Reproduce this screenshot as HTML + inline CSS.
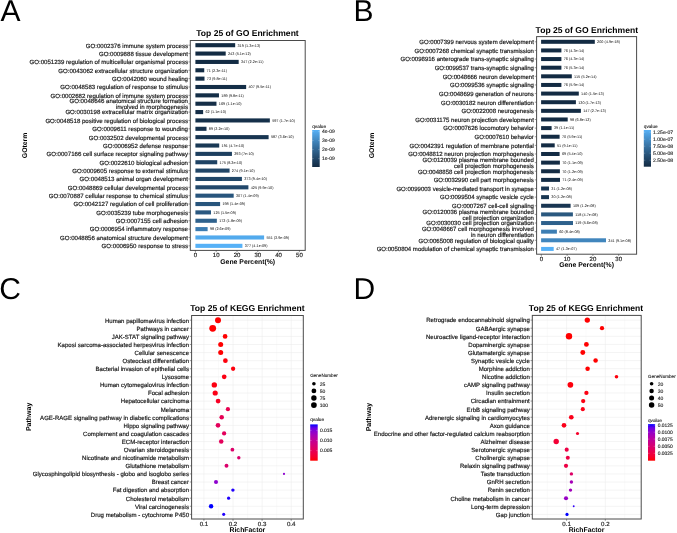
<!DOCTYPE html>
<html><head><meta charset="utf-8"><style>
html,body{margin:0;padding:0;background:#fff;}
svg{display:block;font-family:"Liberation Sans", sans-serif;}
body>div{filter:contrast(1);}
text{text-rendering:geometricPrecision;}
.s{stroke:#1a1a1a;stroke-width:0.18px;}
.t{stroke:#222;stroke-width:0.12px;}
</style></head><body>
<div><svg width="677" height="533" viewBox="0 0 677 533">
<text x="0.60" y="20.70" font-size="30" text-anchor="start" fill="#000">A</text>
<text x="353.40" y="20.70" font-size="30" text-anchor="start" fill="#000">B</text>
<text x="-0.80" y="298.90" font-size="30" text-anchor="start" fill="#000">C</text>
<text x="353.60" y="298.90" font-size="30" text-anchor="start" fill="#000">D</text>
<text x="247.50" y="36.30" font-size="8.55" text-anchor="middle" font-weight="bold" fill="#000">Top 25 of GO Enrichment</text>
<rect x="195.40" y="43.15" width="39.78" height="4.10" fill="#132b43"/>
<text x="237.48" y="46.50" font-size="3.8" text-anchor="start" fill="#111">319 (1.3e-13)</text>
<text x="188.00" y="47.55" font-size="6.1" text-anchor="end" fill="#1a1a1a" class="s">GO:0002376 immune system process</text>
<line x1="188.50" y1="45.20" x2="190.30" y2="45.20" stroke="#333" stroke-width="0.5"/>
<rect x="195.40" y="51.51" width="30.30" height="4.10" fill="#132b43"/>
<text x="228.00" y="54.86" font-size="3.8" text-anchor="start" fill="#111">243 (5.1e-12)</text>
<text x="188.00" y="55.91" font-size="6.1" text-anchor="end" fill="#1a1a1a" class="s">GO:0009888 tissue development</text>
<line x1="188.50" y1="53.56" x2="190.30" y2="53.56" stroke="#333" stroke-width="0.5"/>
<rect x="195.40" y="59.87" width="43.27" height="4.10" fill="#132c44"/>
<text x="240.97" y="63.22" font-size="3.8" text-anchor="start" fill="#111">347 (2.2e-11)</text>
<text x="188.00" y="64.27" font-size="6.1" text-anchor="end" fill="#1a1a1a" class="s">GO:0051239 regulation of multicellular organismal process</text>
<line x1="188.50" y1="61.92" x2="190.30" y2="61.92" stroke="#333" stroke-width="0.5"/>
<rect x="195.40" y="68.23" width="8.85" height="4.10" fill="#132c44"/>
<text x="206.55" y="71.58" font-size="3.8" text-anchor="start" fill="#111">71 (2.3e-11)</text>
<text x="188.00" y="72.63" font-size="6.1" text-anchor="end" fill="#1a1a1a" class="s">GO:0043062 extracellular structure organization</text>
<line x1="188.50" y1="70.28" x2="190.30" y2="70.28" stroke="#333" stroke-width="0.5"/>
<rect x="195.40" y="76.59" width="9.10" height="4.10" fill="#142e47"/>
<text x="206.80" y="79.94" font-size="3.8" text-anchor="start" fill="#111">73 (9.8e-11)</text>
<text x="188.00" y="80.99" font-size="6.1" text-anchor="end" fill="#1a1a1a" class="s">GO:0042060 wound healing</text>
<line x1="188.50" y1="78.64" x2="190.30" y2="78.64" stroke="#333" stroke-width="0.5"/>
<rect x="195.40" y="84.95" width="50.75" height="4.10" fill="#142e47"/>
<text x="248.45" y="88.30" font-size="3.8" text-anchor="start" fill="#111">407 (9.5e-11)</text>
<text x="188.00" y="89.35" font-size="6.1" text-anchor="end" fill="#1a1a1a" class="s">GO:0048583 regulation of response to stimulus</text>
<line x1="188.50" y1="87.00" x2="190.30" y2="87.00" stroke="#333" stroke-width="0.5"/>
<rect x="195.40" y="93.31" width="23.57" height="4.10" fill="#142e47"/>
<text x="221.27" y="96.66" font-size="3.8" text-anchor="start" fill="#111">189 (9.8e-11)</text>
<text x="188.00" y="97.71" font-size="6.1" text-anchor="end" fill="#1a1a1a" class="s">GO:0002682 regulation of immune system process</text>
<line x1="188.50" y1="95.36" x2="190.30" y2="95.36" stroke="#333" stroke-width="0.5"/>
<rect x="195.40" y="101.67" width="21.07" height="4.10" fill="#152e47"/>
<text x="218.77" y="105.02" font-size="3.8" text-anchor="start" fill="#111">169 (1.1e-10)</text>
<text x="188.00" y="102.97" font-size="6.1" text-anchor="end" fill="#1a1a1a" class="s">GO:0048646 anatomical structure formation</text>
<text x="188.00" y="108.97" font-size="6.1" text-anchor="end" fill="#1a1a1a" class="s">involved in morphogenesis</text>
<line x1="188.50" y1="103.72" x2="190.30" y2="103.72" stroke="#333" stroke-width="0.5"/>
<rect x="195.40" y="110.03" width="7.73" height="4.10" fill="#152e47"/>
<text x="205.43" y="113.38" font-size="3.8" text-anchor="start" fill="#111">62 (1.1e-10)</text>
<text x="188.00" y="114.43" font-size="6.1" text-anchor="end" fill="#1a1a1a" class="s">GO:0030198 extracellular matrix organization</text>
<line x1="188.50" y1="112.08" x2="190.30" y2="112.08" stroke="#333" stroke-width="0.5"/>
<rect x="195.40" y="118.39" width="74.45" height="4.10" fill="#15304a"/>
<text x="272.15" y="121.74" font-size="3.8" text-anchor="start" fill="#111">597 (1.7e-10)</text>
<text x="188.00" y="122.79" font-size="6.1" text-anchor="end" fill="#1a1a1a" class="s">GO:0048518 positive regulation of biological process</text>
<line x1="188.50" y1="120.44" x2="190.30" y2="120.44" stroke="#333" stroke-width="0.5"/>
<rect x="195.40" y="126.75" width="11.10" height="4.10" fill="#16314c"/>
<text x="208.80" y="130.10" font-size="3.8" text-anchor="start" fill="#111">89 (2.2e-10)</text>
<text x="188.00" y="131.15" font-size="6.1" text-anchor="end" fill="#1a1a1a" class="s">GO:0009611 response to wounding</text>
<line x1="188.50" y1="128.80" x2="190.30" y2="128.80" stroke="#333" stroke-width="0.5"/>
<rect x="195.40" y="135.11" width="73.20" height="4.10" fill="#183551"/>
<text x="270.90" y="138.46" font-size="3.8" text-anchor="start" fill="#111">587 (3.6e-10)</text>
<text x="188.00" y="139.51" font-size="6.1" text-anchor="end" fill="#1a1a1a" class="s">GO:0032502 developmental process</text>
<line x1="188.50" y1="137.16" x2="190.30" y2="137.16" stroke="#333" stroke-width="0.5"/>
<rect x="195.40" y="143.47" width="23.82" height="4.10" fill="#1a3955"/>
<text x="221.52" y="146.82" font-size="3.8" text-anchor="start" fill="#111">191 (4.7e-10)</text>
<text x="188.00" y="147.87" font-size="6.1" text-anchor="end" fill="#1a1a1a" class="s">GO:0006952 defense response</text>
<line x1="188.50" y1="145.52" x2="190.30" y2="145.52" stroke="#333" stroke-width="0.5"/>
<rect x="195.40" y="151.83" width="36.54" height="4.10" fill="#1d3f5f"/>
<text x="234.24" y="155.18" font-size="3.8" text-anchor="start" fill="#111">293 (7e-10)</text>
<text x="188.00" y="156.23" font-size="6.1" text-anchor="end" fill="#1a1a1a" class="s">GO:0007166 cell surface receptor signaling pathway</text>
<line x1="188.50" y1="153.88" x2="190.30" y2="153.88" stroke="#333" stroke-width="0.5"/>
<rect x="195.40" y="160.19" width="21.82" height="4.10" fill="#1f4364"/>
<text x="219.52" y="163.54" font-size="3.8" text-anchor="start" fill="#111">175 (8.2e-10)</text>
<text x="188.00" y="164.59" font-size="6.1" text-anchor="end" fill="#1a1a1a" class="s">GO:0022610 biological adhesion</text>
<line x1="188.50" y1="162.24" x2="190.30" y2="162.24" stroke="#333" stroke-width="0.5"/>
<rect x="195.40" y="168.55" width="34.17" height="4.10" fill="#214667"/>
<text x="231.87" y="171.90" font-size="3.8" text-anchor="start" fill="#111">274 (9.1e-10)</text>
<text x="188.00" y="172.95" font-size="6.1" text-anchor="end" fill="#1a1a1a" class="s">GO:0009605 response to external stimulus</text>
<line x1="188.50" y1="170.60" x2="190.30" y2="170.60" stroke="#333" stroke-width="0.5"/>
<rect x="195.40" y="176.91" width="46.51" height="4.10" fill="#214768"/>
<text x="244.21" y="180.26" font-size="3.8" text-anchor="start" fill="#111">373 (9.4e-10)</text>
<text x="188.00" y="181.31" font-size="6.1" text-anchor="end" fill="#1a1a1a" class="s">GO:0048513 animal organ development</text>
<line x1="188.50" y1="178.96" x2="190.30" y2="178.96" stroke="#333" stroke-width="0.5"/>
<rect x="195.40" y="185.27" width="53.00" height="4.10" fill="#22486b"/>
<text x="250.70" y="188.62" font-size="3.8" text-anchor="start" fill="#111">425 (9.9e-10)</text>
<text x="188.00" y="189.67" font-size="6.1" text-anchor="end" fill="#1a1a1a" class="s">GO:0048869 cellular developmental process</text>
<line x1="188.50" y1="187.32" x2="190.30" y2="187.32" stroke="#333" stroke-width="0.5"/>
<rect x="195.40" y="193.63" width="38.28" height="4.10" fill="#28557c"/>
<text x="235.98" y="196.98" font-size="3.8" text-anchor="start" fill="#111">307 (1.4e-09)</text>
<text x="188.00" y="198.03" font-size="6.1" text-anchor="end" fill="#1a1a1a" class="s">GO:0070887 cellular response to chemical stimulus</text>
<line x1="188.50" y1="195.68" x2="190.30" y2="195.68" stroke="#333" stroke-width="0.5"/>
<rect x="195.40" y="201.99" width="24.69" height="4.10" fill="#28557c"/>
<text x="222.39" y="205.34" font-size="3.8" text-anchor="start" fill="#111">198 (1.4e-09)</text>
<text x="188.00" y="206.39" font-size="6.1" text-anchor="end" fill="#1a1a1a" class="s">GO:0042127 regulation of cell proliferation</text>
<line x1="188.50" y1="204.04" x2="190.30" y2="204.04" stroke="#333" stroke-width="0.5"/>
<rect x="195.40" y="210.35" width="15.59" height="4.10" fill="#2a5880"/>
<text x="213.29" y="213.70" font-size="3.8" text-anchor="start" fill="#111">125 (1.5e-09)</text>
<text x="188.00" y="214.75" font-size="6.1" text-anchor="end" fill="#1a1a1a" class="s">GO:0035239 tube morphogenesis</text>
<line x1="188.50" y1="212.40" x2="190.30" y2="212.40" stroke="#333" stroke-width="0.5"/>
<rect x="195.40" y="218.71" width="21.45" height="4.10" fill="#2f628d"/>
<text x="219.15" y="222.06" font-size="3.8" text-anchor="start" fill="#111">172 (1.8e-09)</text>
<text x="188.00" y="223.11" font-size="6.1" text-anchor="end" fill="#1a1a1a" class="s">GO:0007155 cell adhesion</text>
<line x1="188.50" y1="220.76" x2="190.30" y2="220.76" stroke="#333" stroke-width="0.5"/>
<rect x="195.40" y="227.07" width="12.22" height="4.10" fill="#3c7cb1"/>
<text x="209.92" y="230.42" font-size="3.8" text-anchor="start" fill="#111">98 (2.6e-09)</text>
<text x="188.00" y="231.47" font-size="6.1" text-anchor="end" fill="#1a1a1a" class="s">GO:0006954 inflammatory response</text>
<line x1="188.50" y1="229.12" x2="190.30" y2="229.12" stroke="#333" stroke-width="0.5"/>
<rect x="195.40" y="235.43" width="68.71" height="4.10" fill="#52aaed"/>
<text x="266.41" y="238.78" font-size="3.8" text-anchor="start" fill="#111">551 (3.9e-09)</text>
<text x="188.00" y="239.83" font-size="6.1" text-anchor="end" fill="#1a1a1a" class="s">GO:0048856 anatomical structure development</text>
<line x1="188.50" y1="237.48" x2="190.30" y2="237.48" stroke="#333" stroke-width="0.5"/>
<rect x="195.40" y="243.79" width="47.01" height="4.10" fill="#56b1f7"/>
<text x="244.71" y="247.14" font-size="3.8" text-anchor="start" fill="#111">377 (4.1e-09)</text>
<text x="188.00" y="248.19" font-size="6.1" text-anchor="end" fill="#1a1a1a" class="s">GO:0006950 response to stress</text>
<line x1="188.50" y1="245.84" x2="190.30" y2="245.84" stroke="#333" stroke-width="0.5"/>
<rect x="190.30" y="40.50" width="114.90" height="209.90" fill="none" stroke="#4a4a4a" stroke-width="1.0"/>
<line x1="195.40" y1="250.40" x2="195.40" y2="252.20" stroke="#333" stroke-width="0.5"/>
<text x="195.40" y="257.10" font-size="6.0" text-anchor="middle" fill="#333333" class="s">0</text>
<line x1="216.20" y1="250.40" x2="216.20" y2="252.20" stroke="#333" stroke-width="0.5"/>
<text x="216.20" y="257.10" font-size="6.0" text-anchor="middle" fill="#333333" class="s">10</text>
<line x1="237.00" y1="250.40" x2="237.00" y2="252.20" stroke="#333" stroke-width="0.5"/>
<text x="237.00" y="257.10" font-size="6.0" text-anchor="middle" fill="#333333" class="s">20</text>
<line x1="257.80" y1="250.40" x2="257.80" y2="252.20" stroke="#333" stroke-width="0.5"/>
<text x="257.80" y="257.10" font-size="6.0" text-anchor="middle" fill="#333333" class="s">30</text>
<line x1="278.60" y1="250.40" x2="278.60" y2="252.20" stroke="#333" stroke-width="0.5"/>
<text x="278.60" y="257.10" font-size="6.0" text-anchor="middle" fill="#333333" class="s">40</text>
<line x1="299.40" y1="250.40" x2="299.40" y2="252.20" stroke="#333" stroke-width="0.5"/>
<text x="299.40" y="257.10" font-size="6.0" text-anchor="middle" fill="#333333" class="s">50</text>
<text x="247.70" y="264.00" font-size="6.85" text-anchor="middle" font-weight="bold" fill="#000">Gene Percent(%)</text>
<text transform="translate(27.40,145.40) rotate(-90)" font-size="6.85" font-weight="bold" text-anchor="middle" fill="#000">GOterm</text>
<defs><linearGradient id="g121" x1="0" y1="1" x2="0" y2="0">
<stop offset="0.00" stop-color="#132b43"/>
<stop offset="0.10" stop-color="#193753"/>
<stop offset="0.20" stop-color="#1f4364"/>
<stop offset="0.30" stop-color="#265075"/>
<stop offset="0.40" stop-color="#2c5d86"/>
<stop offset="0.50" stop-color="#336a98"/>
<stop offset="0.60" stop-color="#3a78aa"/>
<stop offset="0.70" stop-color="#4186bd"/>
<stop offset="0.80" stop-color="#4894d0"/>
<stop offset="0.90" stop-color="#4fa2e3"/>
<stop offset="1.00" stop-color="#56b1f7"/>
</linearGradient></defs>
<rect x="312.20" y="130.00" width="7.50" height="37.00" fill="url(#g121)"/>
<text x="312.20" y="127.80" font-size="4.7" text-anchor="start" fill="#222222" class="t">qvalue</text>
<line x1="312.20" y1="131.60" x2="313.70" y2="131.60" stroke="#fff" stroke-width="0.4" stroke-opacity="0.6"/>
<line x1="318.20" y1="131.60" x2="319.70" y2="131.60" stroke="#fff" stroke-width="0.4" stroke-opacity="0.6"/>
<text x="322.00" y="133.40" font-size="5.0" text-anchor="start" fill="#222222" class="t">4e-09</text>
<line x1="312.20" y1="140.60" x2="313.70" y2="140.60" stroke="#fff" stroke-width="0.4" stroke-opacity="0.6"/>
<line x1="318.20" y1="140.60" x2="319.70" y2="140.60" stroke="#fff" stroke-width="0.4" stroke-opacity="0.6"/>
<text x="322.00" y="142.40" font-size="5.0" text-anchor="start" fill="#222222" class="t">3e-09</text>
<line x1="312.20" y1="149.60" x2="313.70" y2="149.60" stroke="#fff" stroke-width="0.4" stroke-opacity="0.6"/>
<line x1="318.20" y1="149.60" x2="319.70" y2="149.60" stroke="#fff" stroke-width="0.4" stroke-opacity="0.6"/>
<text x="322.00" y="151.40" font-size="5.0" text-anchor="start" fill="#222222" class="t">2e-09</text>
<line x1="312.20" y1="158.60" x2="313.70" y2="158.60" stroke="#fff" stroke-width="0.4" stroke-opacity="0.6"/>
<line x1="318.20" y1="158.60" x2="319.70" y2="158.60" stroke="#fff" stroke-width="0.4" stroke-opacity="0.6"/>
<text x="322.00" y="160.40" font-size="5.0" text-anchor="start" fill="#222222" class="t">1e-09</text>
<text x="586.80" y="32.70" font-size="8.55" text-anchor="middle" font-weight="bold" fill="#000">Top 25 of GO Enrichment</text>
<rect x="541.10" y="39.80" width="53.70" height="4.00" fill="#132b43"/>
<text x="597.10" y="43.10" font-size="3.8" text-anchor="start" fill="#111">200 (4.9e-18)</text>
<text x="533.90" y="44.15" font-size="6.04" text-anchor="end" fill="#1a1a1a" class="s">GO:0007399 nervous system development</text>
<line x1="534.80" y1="41.80" x2="536.60" y2="41.80" stroke="#333" stroke-width="0.5"/>
<rect x="541.10" y="48.43" width="20.30" height="4.00" fill="#132b43"/>
<text x="563.70" y="51.73" font-size="3.8" text-anchor="start" fill="#111">76 (4.3e-14)</text>
<text x="533.90" y="52.78" font-size="6.04" text-anchor="end" fill="#1a1a1a" class="s">GO:0007268 chemical synaptic transmission</text>
<line x1="534.80" y1="50.43" x2="536.60" y2="50.43" stroke="#333" stroke-width="0.5"/>
<rect x="541.10" y="57.06" width="20.30" height="4.00" fill="#132b43"/>
<text x="563.70" y="60.36" font-size="3.8" text-anchor="start" fill="#111">76 (4.3e-14)</text>
<text x="533.90" y="61.41" font-size="6.04" text-anchor="end" fill="#1a1a1a" class="s">GO:0098916 anterograde trans-synaptic signaling</text>
<line x1="534.80" y1="59.06" x2="536.60" y2="59.06" stroke="#333" stroke-width="0.5"/>
<rect x="541.10" y="65.69" width="20.30" height="4.00" fill="#132b43"/>
<text x="563.70" y="68.99" font-size="3.8" text-anchor="start" fill="#111">76 (5.3e-14)</text>
<text x="533.90" y="70.04" font-size="6.04" text-anchor="end" fill="#1a1a1a" class="s">GO:0099537 trans-synaptic signaling</text>
<line x1="534.80" y1="67.69" x2="536.60" y2="67.69" stroke="#333" stroke-width="0.5"/>
<rect x="541.10" y="74.32" width="30.70" height="4.00" fill="#132b43"/>
<text x="574.10" y="77.62" font-size="3.8" text-anchor="start" fill="#111">115 (5.2e-14)</text>
<text x="533.90" y="78.67" font-size="6.04" text-anchor="end" fill="#1a1a1a" class="s">GO:0048666 neuron development</text>
<line x1="534.80" y1="76.32" x2="536.60" y2="76.32" stroke="#333" stroke-width="0.5"/>
<rect x="541.10" y="82.95" width="20.30" height="4.00" fill="#132b43"/>
<text x="563.70" y="86.25" font-size="3.8" text-anchor="start" fill="#111">76 (5.9e-14)</text>
<text x="533.90" y="87.30" font-size="6.04" text-anchor="end" fill="#1a1a1a" class="s">GO:0099536 synaptic signaling</text>
<line x1="534.80" y1="84.95" x2="536.60" y2="84.95" stroke="#333" stroke-width="0.5"/>
<rect x="541.10" y="91.58" width="37.70" height="4.00" fill="#132b43"/>
<text x="581.10" y="94.88" font-size="3.8" text-anchor="start" fill="#111">140 (1.5e-13)</text>
<text x="533.90" y="95.93" font-size="6.04" text-anchor="end" fill="#1a1a1a" class="s">GO:0048699 generation of neurons</text>
<line x1="534.80" y1="93.58" x2="536.60" y2="93.58" stroke="#333" stroke-width="0.5"/>
<rect x="541.10" y="100.21" width="34.80" height="4.00" fill="#132b43"/>
<text x="578.20" y="103.51" font-size="3.8" text-anchor="start" fill="#111">130 (1.7e-13)</text>
<text x="533.90" y="104.56" font-size="6.04" text-anchor="end" fill="#1a1a1a" class="s">GO:0030182 neuron differentiation</text>
<line x1="534.80" y1="102.21" x2="536.60" y2="102.21" stroke="#333" stroke-width="0.5"/>
<rect x="541.10" y="108.84" width="39.80" height="4.00" fill="#132b43"/>
<text x="583.20" y="112.14" font-size="3.8" text-anchor="start" fill="#111">147 (2.7e-13)</text>
<text x="533.90" y="113.19" font-size="6.04" text-anchor="end" fill="#1a1a1a" class="s">GO:0022008 neurogenesis</text>
<line x1="534.80" y1="110.84" x2="536.60" y2="110.84" stroke="#333" stroke-width="0.5"/>
<rect x="541.10" y="117.47" width="26.60" height="4.00" fill="#132b43"/>
<text x="570.00" y="120.77" font-size="3.8" text-anchor="start" fill="#111">98 (6.8e-12)</text>
<text x="533.90" y="121.82" font-size="6.04" text-anchor="end" fill="#1a1a1a" class="s">GO:0031175 neuron projection development</text>
<line x1="534.80" y1="119.47" x2="536.60" y2="119.47" stroke="#333" stroke-width="0.5"/>
<rect x="541.10" y="126.10" width="10.50" height="4.00" fill="#132b43"/>
<text x="553.90" y="129.40" font-size="3.8" text-anchor="start" fill="#111">39 (1.1e-11)</text>
<text x="533.90" y="130.45" font-size="6.04" text-anchor="end" fill="#1a1a1a" class="s">GO:0007626 locomotory behavior</text>
<line x1="534.80" y1="128.10" x2="536.60" y2="128.10" stroke="#333" stroke-width="0.5"/>
<rect x="541.10" y="134.73" width="18.50" height="4.00" fill="#132b43"/>
<text x="561.90" y="138.03" font-size="3.8" text-anchor="start" fill="#111">70 (5.9e-11)</text>
<text x="533.90" y="139.08" font-size="6.04" text-anchor="end" fill="#1a1a1a" class="s">GO:0007610 behavior</text>
<line x1="534.80" y1="136.73" x2="536.60" y2="136.73" stroke="#333" stroke-width="0.5"/>
<rect x="541.10" y="143.36" width="13.60" height="4.00" fill="#132b43"/>
<text x="557.00" y="146.66" font-size="3.8" text-anchor="start" fill="#111">51 (9.1e-11)</text>
<text x="533.90" y="147.71" font-size="6.04" text-anchor="end" fill="#1a1a1a" class="s">GO:0042391 regulation of membrane potential</text>
<line x1="534.80" y1="145.36" x2="536.60" y2="145.36" stroke="#333" stroke-width="0.5"/>
<rect x="541.10" y="151.99" width="18.50" height="4.00" fill="#132b44"/>
<text x="561.90" y="155.29" font-size="3.8" text-anchor="start" fill="#111">69 (5.4e-10)</text>
<text x="533.90" y="156.34" font-size="6.04" text-anchor="end" fill="#1a1a1a" class="s">GO:0048812 neuron projection morphogenesis</text>
<line x1="534.80" y1="153.99" x2="536.60" y2="153.99" stroke="#333" stroke-width="0.5"/>
<rect x="541.10" y="160.62" width="18.80" height="4.00" fill="#142c44"/>
<text x="562.20" y="163.92" font-size="3.8" text-anchor="start" fill="#111">70 (1.1e-09)</text>
<text x="533.90" y="161.87" font-size="6.04" text-anchor="end" fill="#1a1a1a" class="s">GO:0120039 plasma membrane bounded</text>
<text x="533.90" y="167.87" font-size="6.04" text-anchor="end" fill="#1a1a1a" class="s">cell projection morphogenesis</text>
<line x1="534.80" y1="162.62" x2="536.60" y2="162.62" stroke="#333" stroke-width="0.5"/>
<rect x="541.10" y="169.25" width="18.80" height="4.00" fill="#142c44"/>
<text x="562.20" y="172.55" font-size="3.8" text-anchor="start" fill="#111">70 (1.2e-09)</text>
<text x="533.90" y="173.60" font-size="6.04" text-anchor="end" fill="#1a1a1a" class="s">GO:0048858 cell projection morphogenesis</text>
<line x1="534.80" y1="171.25" x2="536.60" y2="171.25" stroke="#333" stroke-width="0.5"/>
<rect x="541.10" y="177.88" width="18.90" height="4.00" fill="#142d46"/>
<text x="562.30" y="181.18" font-size="3.8" text-anchor="start" fill="#111">71 (2.4e-09)</text>
<text x="533.90" y="182.23" font-size="6.04" text-anchor="end" fill="#1a1a1a" class="s">GO:0032990 cell part morphogenesis</text>
<line x1="534.80" y1="179.88" x2="536.60" y2="179.88" stroke="#333" stroke-width="0.5"/>
<rect x="541.10" y="186.51" width="7.90" height="4.00" fill="#193652"/>
<text x="551.30" y="189.81" font-size="3.8" text-anchor="start" fill="#111">31 (1.2e-08)</text>
<text x="533.90" y="190.86" font-size="6.04" text-anchor="end" fill="#1a1a1a" class="s">GO:0099003 vesicle-mediated transport in synapse</text>
<line x1="534.80" y1="188.51" x2="536.60" y2="188.51" stroke="#333" stroke-width="0.5"/>
<rect x="541.10" y="195.14" width="7.90" height="4.00" fill="#193652"/>
<text x="551.30" y="198.44" font-size="3.8" text-anchor="start" fill="#111">30 (1.2e-08)</text>
<text x="533.90" y="199.49" font-size="6.04" text-anchor="end" fill="#1a1a1a" class="s">GO:0099504 synaptic vesicle cycle</text>
<line x1="534.80" y1="197.14" x2="536.60" y2="197.14" stroke="#333" stroke-width="0.5"/>
<rect x="541.10" y="203.77" width="29.50" height="4.00" fill="#193652"/>
<text x="572.90" y="207.07" font-size="3.8" text-anchor="start" fill="#111">109 (1.2e-08)</text>
<text x="533.90" y="208.12" font-size="6.04" text-anchor="end" fill="#1a1a1a" class="s">GO:0007267 cell-cell signaling</text>
<line x1="534.80" y1="205.77" x2="536.60" y2="205.77" stroke="#333" stroke-width="0.5"/>
<rect x="541.10" y="212.40" width="31.80" height="4.00" fill="#2a587f"/>
<text x="575.20" y="215.70" font-size="3.8" text-anchor="start" fill="#111">118 (4.7e-08)</text>
<text x="533.90" y="213.65" font-size="6.04" text-anchor="end" fill="#1a1a1a" class="s">GO:0120036 plasma membrane bounded</text>
<text x="533.90" y="219.65" font-size="6.04" text-anchor="end" fill="#1a1a1a" class="s">cell projection organization</text>
<line x1="534.80" y1="214.40" x2="536.60" y2="214.40" stroke="#333" stroke-width="0.5"/>
<rect x="541.10" y="221.03" width="31.90" height="4.00" fill="#2e618c"/>
<text x="575.30" y="224.33" font-size="3.8" text-anchor="start" fill="#111">119 (5.6e-08)</text>
<text x="533.90" y="225.38" font-size="6.04" text-anchor="end" fill="#1a1a1a" class="s">GO:0030030 cell projection organization</text>
<line x1="534.80" y1="223.03" x2="536.60" y2="223.03" stroke="#333" stroke-width="0.5"/>
<rect x="541.10" y="229.66" width="15.80" height="4.00" fill="#3d7eb3"/>
<text x="559.20" y="232.96" font-size="3.8" text-anchor="start" fill="#111">60 (8.4e-08)</text>
<text x="533.90" y="230.91" font-size="6.04" text-anchor="end" fill="#1a1a1a" class="s">GO:0048667 cell morphogenesis involved</text>
<text x="533.90" y="236.91" font-size="6.04" text-anchor="end" fill="#1a1a1a" class="s">in neuron differentiation</text>
<line x1="534.80" y1="231.66" x2="536.60" y2="231.66" stroke="#333" stroke-width="0.5"/>
<rect x="541.10" y="238.29" width="64.90" height="4.00" fill="#4186bd"/>
<text x="608.30" y="241.59" font-size="3.8" text-anchor="start" fill="#111">241 (9.1e-08)</text>
<text x="533.90" y="242.64" font-size="6.04" text-anchor="end" fill="#1a1a1a" class="s">GO:0065008 regulation of biological quality</text>
<line x1="534.80" y1="240.29" x2="536.60" y2="240.29" stroke="#333" stroke-width="0.5"/>
<rect x="541.10" y="246.92" width="12.60" height="4.00" fill="#56b1f7"/>
<text x="556.00" y="250.22" font-size="3.8" text-anchor="start" fill="#111">47 (1.3e-07)</text>
<text x="533.90" y="251.27" font-size="6.04" text-anchor="end" fill="#1a1a1a" class="s">GO:0050804 modulation of chemical synaptic transmission</text>
<line x1="534.80" y1="248.92" x2="536.60" y2="248.92" stroke="#333" stroke-width="0.5"/>
<rect x="536.60" y="36.60" width="100.00" height="217.60" fill="none" stroke="#4a4a4a" stroke-width="1.0"/>
<line x1="541.30" y1="254.20" x2="541.30" y2="256.00" stroke="#333" stroke-width="0.5"/>
<text x="541.30" y="260.90" font-size="6.0" text-anchor="middle" fill="#333333" class="s">0</text>
<line x1="567.10" y1="254.20" x2="567.10" y2="256.00" stroke="#333" stroke-width="0.5"/>
<text x="567.10" y="260.90" font-size="6.0" text-anchor="middle" fill="#333333" class="s">10</text>
<line x1="592.90" y1="254.20" x2="592.90" y2="256.00" stroke="#333" stroke-width="0.5"/>
<text x="592.90" y="260.90" font-size="6.0" text-anchor="middle" fill="#333333" class="s">20</text>
<line x1="618.70" y1="254.20" x2="618.70" y2="256.00" stroke="#333" stroke-width="0.5"/>
<text x="618.70" y="260.90" font-size="6.0" text-anchor="middle" fill="#333333" class="s">30</text>
<text x="586.60" y="267.40" font-size="6.85" text-anchor="middle" font-weight="bold" fill="#000">Gene Percent(%)</text>
<text transform="translate(374.40,145.50) rotate(-90)" font-size="6.85" font-weight="bold" text-anchor="middle" fill="#000">GOterm</text>
<defs><linearGradient id="g263" x1="0" y1="1" x2="0" y2="0">
<stop offset="0.00" stop-color="#132b43"/>
<stop offset="0.10" stop-color="#193753"/>
<stop offset="0.20" stop-color="#1f4364"/>
<stop offset="0.30" stop-color="#265075"/>
<stop offset="0.40" stop-color="#2c5d86"/>
<stop offset="0.50" stop-color="#336a98"/>
<stop offset="0.60" stop-color="#3a78aa"/>
<stop offset="0.70" stop-color="#4186bd"/>
<stop offset="0.80" stop-color="#4894d0"/>
<stop offset="0.90" stop-color="#4fa2e3"/>
<stop offset="1.00" stop-color="#56b1f7"/>
</linearGradient></defs>
<rect x="643.80" y="130.00" width="7.20" height="36.70" fill="url(#g263)"/>
<text x="643.80" y="127.50" font-size="4.7" text-anchor="start" fill="#222222" class="t">qvalue</text>
<line x1="643.80" y1="132.20" x2="645.30" y2="132.20" stroke="#fff" stroke-width="0.4" stroke-opacity="0.6"/>
<line x1="649.50" y1="132.20" x2="651.00" y2="132.20" stroke="#fff" stroke-width="0.4" stroke-opacity="0.6"/>
<text x="653.00" y="134.00" font-size="5.1" text-anchor="start" fill="#222222" class="t">1.25e-07</text>
<line x1="643.80" y1="139.20" x2="645.30" y2="139.20" stroke="#fff" stroke-width="0.4" stroke-opacity="0.6"/>
<line x1="649.50" y1="139.20" x2="651.00" y2="139.20" stroke="#fff" stroke-width="0.4" stroke-opacity="0.6"/>
<text x="653.00" y="141.00" font-size="5.1" text-anchor="start" fill="#222222" class="t">1.00e-07</text>
<line x1="643.80" y1="146.20" x2="645.30" y2="146.20" stroke="#fff" stroke-width="0.4" stroke-opacity="0.6"/>
<line x1="649.50" y1="146.20" x2="651.00" y2="146.20" stroke="#fff" stroke-width="0.4" stroke-opacity="0.6"/>
<text x="653.00" y="148.00" font-size="5.1" text-anchor="start" fill="#222222" class="t">7.50e-08</text>
<line x1="643.80" y1="153.20" x2="645.30" y2="153.20" stroke="#fff" stroke-width="0.4" stroke-opacity="0.6"/>
<line x1="649.50" y1="153.20" x2="651.00" y2="153.20" stroke="#fff" stroke-width="0.4" stroke-opacity="0.6"/>
<text x="653.00" y="155.00" font-size="5.1" text-anchor="start" fill="#222222" class="t">5.00e-08</text>
<line x1="643.80" y1="160.20" x2="645.30" y2="160.20" stroke="#fff" stroke-width="0.4" stroke-opacity="0.6"/>
<line x1="649.50" y1="160.20" x2="651.00" y2="160.20" stroke="#fff" stroke-width="0.4" stroke-opacity="0.6"/>
<text x="653.00" y="162.00" font-size="5.1" text-anchor="start" fill="#222222" class="t">2.50e-08</text>
<text x="247.40" y="310.90" font-size="8.55" text-anchor="middle" font-weight="bold" fill="#000">Top 25 of KEGG Enrichment</text>
<line x1="218.45" y1="315.50" x2="218.45" y2="519.00" stroke="#f2f2f2" stroke-width="0.4"/>
<line x1="247.55" y1="315.50" x2="247.55" y2="519.00" stroke="#f2f2f2" stroke-width="0.4"/>
<line x1="276.65" y1="315.50" x2="276.65" y2="519.00" stroke="#f2f2f2" stroke-width="0.4"/>
<line x1="203.90" y1="315.50" x2="203.90" y2="519.00" stroke="#ebebeb" stroke-width="0.55"/>
<line x1="233.00" y1="315.50" x2="233.00" y2="519.00" stroke="#ebebeb" stroke-width="0.55"/>
<line x1="262.10" y1="315.50" x2="262.10" y2="519.00" stroke="#ebebeb" stroke-width="0.55"/>
<line x1="291.20" y1="315.50" x2="291.20" y2="519.00" stroke="#ebebeb" stroke-width="0.55"/>
<line x1="191.60" y1="320.20" x2="303.30" y2="320.20" stroke="#ebebeb" stroke-width="0.55"/>
<line x1="191.60" y1="328.29" x2="303.30" y2="328.29" stroke="#ebebeb" stroke-width="0.55"/>
<line x1="191.60" y1="336.38" x2="303.30" y2="336.38" stroke="#ebebeb" stroke-width="0.55"/>
<line x1="191.60" y1="344.47" x2="303.30" y2="344.47" stroke="#ebebeb" stroke-width="0.55"/>
<line x1="191.60" y1="352.56" x2="303.30" y2="352.56" stroke="#ebebeb" stroke-width="0.55"/>
<line x1="191.60" y1="360.65" x2="303.30" y2="360.65" stroke="#ebebeb" stroke-width="0.55"/>
<line x1="191.60" y1="368.74" x2="303.30" y2="368.74" stroke="#ebebeb" stroke-width="0.55"/>
<line x1="191.60" y1="376.83" x2="303.30" y2="376.83" stroke="#ebebeb" stroke-width="0.55"/>
<line x1="191.60" y1="384.92" x2="303.30" y2="384.92" stroke="#ebebeb" stroke-width="0.55"/>
<line x1="191.60" y1="393.01" x2="303.30" y2="393.01" stroke="#ebebeb" stroke-width="0.55"/>
<line x1="191.60" y1="401.10" x2="303.30" y2="401.10" stroke="#ebebeb" stroke-width="0.55"/>
<line x1="191.60" y1="409.19" x2="303.30" y2="409.19" stroke="#ebebeb" stroke-width="0.55"/>
<line x1="191.60" y1="417.28" x2="303.30" y2="417.28" stroke="#ebebeb" stroke-width="0.55"/>
<line x1="191.60" y1="425.37" x2="303.30" y2="425.37" stroke="#ebebeb" stroke-width="0.55"/>
<line x1="191.60" y1="433.46" x2="303.30" y2="433.46" stroke="#ebebeb" stroke-width="0.55"/>
<line x1="191.60" y1="441.55" x2="303.30" y2="441.55" stroke="#ebebeb" stroke-width="0.55"/>
<line x1="191.60" y1="449.64" x2="303.30" y2="449.64" stroke="#ebebeb" stroke-width="0.55"/>
<line x1="191.60" y1="457.73" x2="303.30" y2="457.73" stroke="#ebebeb" stroke-width="0.55"/>
<line x1="191.60" y1="465.82" x2="303.30" y2="465.82" stroke="#ebebeb" stroke-width="0.55"/>
<line x1="191.60" y1="473.91" x2="303.30" y2="473.91" stroke="#ebebeb" stroke-width="0.55"/>
<line x1="191.60" y1="482.00" x2="303.30" y2="482.00" stroke="#ebebeb" stroke-width="0.55"/>
<line x1="191.60" y1="490.09" x2="303.30" y2="490.09" stroke="#ebebeb" stroke-width="0.55"/>
<line x1="191.60" y1="498.18" x2="303.30" y2="498.18" stroke="#ebebeb" stroke-width="0.55"/>
<line x1="191.60" y1="506.27" x2="303.30" y2="506.27" stroke="#ebebeb" stroke-width="0.55"/>
<line x1="191.60" y1="514.36" x2="303.30" y2="514.36" stroke="#ebebeb" stroke-width="0.55"/>
<circle cx="218.00" cy="320.20" r="3.00" fill="#ff0000"/>
<text x="189.00" y="322.55" font-size="6.05" text-anchor="end" fill="#1a1a1a" class="s">Human papillomavirus infection</text>
<line x1="189.80" y1="320.20" x2="191.60" y2="320.20" stroke="#333" stroke-width="0.5"/>
<circle cx="212.70" cy="328.29" r="3.40" fill="#ff0000"/>
<text x="189.00" y="330.64" font-size="6.05" text-anchor="end" fill="#1a1a1a" class="s">Pathways in cancer</text>
<line x1="189.80" y1="328.29" x2="191.60" y2="328.29" stroke="#333" stroke-width="0.5"/>
<circle cx="225.10" cy="336.38" r="2.35" fill="#ff0000"/>
<text x="189.00" y="338.73" font-size="6.05" text-anchor="end" fill="#1a1a1a" class="s">JAK-STAT signaling pathway</text>
<line x1="189.80" y1="336.38" x2="191.60" y2="336.38" stroke="#333" stroke-width="0.5"/>
<circle cx="220.70" cy="344.47" r="2.50" fill="#ff0000"/>
<text x="189.00" y="346.82" font-size="6.05" text-anchor="end" fill="#1a1a1a" class="s">Kaposi sarcoma-associated herpesvirus infection</text>
<line x1="189.80" y1="344.47" x2="191.60" y2="344.47" stroke="#333" stroke-width="0.5"/>
<circle cx="220.70" cy="352.56" r="2.50" fill="#ff0000"/>
<text x="189.00" y="354.91" font-size="6.05" text-anchor="end" fill="#1a1a1a" class="s">Cellular senescence</text>
<line x1="189.80" y1="352.56" x2="191.60" y2="352.56" stroke="#333" stroke-width="0.5"/>
<circle cx="225.40" cy="360.65" r="2.35" fill="#fd000d"/>
<text x="189.00" y="363.00" font-size="6.05" text-anchor="end" fill="#1a1a1a" class="s">Osteoclast differentiation</text>
<line x1="189.80" y1="360.65" x2="191.60" y2="360.65" stroke="#333" stroke-width="0.5"/>
<circle cx="233.10" cy="368.74" r="2.15" fill="#fd000d"/>
<text x="189.00" y="371.09" font-size="6.05" text-anchor="end" fill="#1a1a1a" class="s">Bacterial invasion of epithelial cells</text>
<line x1="189.80" y1="368.74" x2="191.60" y2="368.74" stroke="#333" stroke-width="0.5"/>
<circle cx="224.20" cy="376.83" r="2.35" fill="#fc0012"/>
<text x="189.00" y="379.18" font-size="6.05" text-anchor="end" fill="#1a1a1a" class="s">Lysosome</text>
<line x1="189.80" y1="376.83" x2="191.60" y2="376.83" stroke="#333" stroke-width="0.5"/>
<circle cx="214.30" cy="384.92" r="2.70" fill="#fc0012"/>
<text x="189.00" y="387.27" font-size="6.05" text-anchor="end" fill="#1a1a1a" class="s">Human cytomegalovirus infection</text>
<line x1="189.80" y1="384.92" x2="191.60" y2="384.92" stroke="#333" stroke-width="0.5"/>
<circle cx="215.20" cy="393.01" r="2.60" fill="#fc0016"/>
<text x="189.00" y="395.36" font-size="6.05" text-anchor="end" fill="#1a1a1a" class="s">Focal adhesion</text>
<line x1="189.80" y1="393.01" x2="191.60" y2="393.01" stroke="#333" stroke-width="0.5"/>
<circle cx="218.10" cy="401.10" r="2.40" fill="#f80024"/>
<text x="189.00" y="403.45" font-size="6.05" text-anchor="end" fill="#1a1a1a" class="s">Hepatocellular carcinoma</text>
<line x1="189.80" y1="401.10" x2="191.60" y2="401.10" stroke="#333" stroke-width="0.5"/>
<circle cx="227.90" cy="409.19" r="2.10" fill="#e80050"/>
<text x="189.00" y="411.54" font-size="6.05" text-anchor="end" fill="#1a1a1a" class="s">Melanoma</text>
<line x1="189.80" y1="409.19" x2="191.60" y2="409.19" stroke="#333" stroke-width="0.5"/>
<circle cx="221.70" cy="417.28" r="2.25" fill="#e60054"/>
<text x="189.00" y="419.63" font-size="6.05" text-anchor="end" fill="#1a1a1a" class="s">AGE-RAGE signaling pathway in diabetic complications</text>
<line x1="189.80" y1="417.28" x2="191.60" y2="417.28" stroke="#333" stroke-width="0.5"/>
<circle cx="218.00" cy="425.37" r="2.35" fill="#e3005b"/>
<text x="189.00" y="427.72" font-size="6.05" text-anchor="end" fill="#1a1a1a" class="s">Hippo signaling pathway</text>
<line x1="189.80" y1="425.37" x2="191.60" y2="425.37" stroke="#333" stroke-width="0.5"/>
<circle cx="224.10" cy="433.46" r="2.15" fill="#e3005b"/>
<text x="189.00" y="435.81" font-size="6.05" text-anchor="end" fill="#1a1a1a" class="s">Complement and coagulation cascades</text>
<line x1="189.80" y1="433.46" x2="191.60" y2="433.46" stroke="#333" stroke-width="0.5"/>
<circle cx="221.20" cy="441.55" r="2.25" fill="#e3005b"/>
<text x="189.00" y="443.90" font-size="6.05" text-anchor="end" fill="#1a1a1a" class="s">ECM-receptor interaction</text>
<line x1="189.80" y1="441.55" x2="191.60" y2="441.55" stroke="#333" stroke-width="0.5"/>
<circle cx="232.40" cy="449.64" r="1.90" fill="#dc0069"/>
<text x="189.00" y="451.99" font-size="6.05" text-anchor="end" fill="#1a1a1a" class="s">Ovarian steroidogenesis</text>
<line x1="189.80" y1="449.64" x2="191.60" y2="449.64" stroke="#333" stroke-width="0.5"/>
<circle cx="238.80" cy="457.73" r="1.70" fill="#d9006d"/>
<text x="189.00" y="460.08" font-size="6.05" text-anchor="end" fill="#1a1a1a" class="s">Nicotinate and nicotinamide metabolism</text>
<line x1="189.80" y1="457.73" x2="191.60" y2="457.73" stroke="#333" stroke-width="0.5"/>
<circle cx="226.50" cy="465.82" r="1.95" fill="#db006b"/>
<text x="189.00" y="468.17" font-size="6.05" text-anchor="end" fill="#1a1a1a" class="s">Glutathione metabolism</text>
<line x1="189.80" y1="465.82" x2="191.60" y2="465.82" stroke="#333" stroke-width="0.5"/>
<circle cx="284.00" cy="473.91" r="1.05" fill="#8d00ce"/>
<text x="189.00" y="476.26" font-size="6.05" text-anchor="end" fill="#1a1a1a" class="s">Glycosphingolipid biosynthesis - globo and isoglobo series</text>
<line x1="189.80" y1="473.91" x2="191.60" y2="473.91" stroke="#333" stroke-width="0.5"/>
<circle cx="216.00" cy="482.00" r="2.05" fill="#8d00ce"/>
<text x="189.00" y="484.35" font-size="6.05" text-anchor="end" fill="#1a1a1a" class="s">Breast cancer</text>
<line x1="189.80" y1="482.00" x2="191.60" y2="482.00" stroke="#333" stroke-width="0.5"/>
<circle cx="232.90" cy="490.09" r="1.70" fill="#2000fd"/>
<text x="189.00" y="492.44" font-size="6.05" text-anchor="end" fill="#1a1a1a" class="s">Fat digestion and absorption</text>
<line x1="189.80" y1="490.09" x2="191.60" y2="490.09" stroke="#333" stroke-width="0.5"/>
<circle cx="228.60" cy="498.18" r="1.60" fill="#2000fd"/>
<text x="189.00" y="500.53" font-size="6.05" text-anchor="end" fill="#1a1a1a" class="s">Cholesterol metabolism</text>
<line x1="189.80" y1="498.18" x2="191.60" y2="498.18" stroke="#333" stroke-width="0.5"/>
<circle cx="211.10" cy="506.27" r="2.20" fill="#0000ff"/>
<text x="189.00" y="508.62" font-size="6.05" text-anchor="end" fill="#1a1a1a" class="s">Viral carcinogenesis</text>
<line x1="189.80" y1="506.27" x2="191.60" y2="506.27" stroke="#333" stroke-width="0.5"/>
<circle cx="223.70" cy="514.36" r="1.55" fill="#2000fd"/>
<text x="189.00" y="516.71" font-size="6.05" text-anchor="end" fill="#1a1a1a" class="s">Drug metabolism - cytochrome P450</text>
<line x1="189.80" y1="514.36" x2="191.60" y2="514.36" stroke="#333" stroke-width="0.5"/>
<rect x="191.60" y="315.50" width="111.70" height="203.50" fill="none" stroke="#4a4a4a" stroke-width="1.0"/>
<line x1="203.90" y1="519.00" x2="203.90" y2="520.80" stroke="#333" stroke-width="0.5"/>
<text x="203.90" y="525.80" font-size="6.1" text-anchor="middle" fill="#333333" class="s">0.1</text>
<line x1="233.00" y1="519.00" x2="233.00" y2="520.80" stroke="#333" stroke-width="0.5"/>
<text x="233.00" y="525.80" font-size="6.1" text-anchor="middle" fill="#333333" class="s">0.2</text>
<line x1="262.10" y1="519.00" x2="262.10" y2="520.80" stroke="#333" stroke-width="0.5"/>
<text x="262.10" y="525.80" font-size="6.1" text-anchor="middle" fill="#333333" class="s">0.3</text>
<line x1="291.20" y1="519.00" x2="291.20" y2="520.80" stroke="#333" stroke-width="0.5"/>
<text x="291.20" y="525.80" font-size="6.1" text-anchor="middle" fill="#333333" class="s">0.4</text>
<text x="247.40" y="532.40" font-size="6.85" text-anchor="middle" font-weight="bold" fill="#000">RichFactor</text>
<text transform="translate(30.90,416.90) rotate(-90)" font-size="7.0" font-weight="bold" text-anchor="middle" fill="#000">Pathway</text>
<text x="586.00" y="310.90" font-size="8.55" text-anchor="middle" font-weight="bold" fill="#000">Top 25 of KEGG Enrichment</text>
<line x1="547.25" y1="315.40" x2="547.25" y2="519.00" stroke="#f2f2f2" stroke-width="0.4"/>
<line x1="585.95" y1="315.40" x2="585.95" y2="519.00" stroke="#f2f2f2" stroke-width="0.4"/>
<line x1="624.65" y1="315.40" x2="624.65" y2="519.00" stroke="#f2f2f2" stroke-width="0.4"/>
<line x1="566.60" y1="315.40" x2="566.60" y2="519.00" stroke="#ebebeb" stroke-width="0.55"/>
<line x1="605.30" y1="315.40" x2="605.30" y2="519.00" stroke="#ebebeb" stroke-width="0.55"/>
<line x1="532.30" y1="320.10" x2="641.20" y2="320.10" stroke="#ebebeb" stroke-width="0.55"/>
<line x1="532.30" y1="328.20" x2="641.20" y2="328.20" stroke="#ebebeb" stroke-width="0.55"/>
<line x1="532.30" y1="336.29" x2="641.20" y2="336.29" stroke="#ebebeb" stroke-width="0.55"/>
<line x1="532.30" y1="344.39" x2="641.20" y2="344.39" stroke="#ebebeb" stroke-width="0.55"/>
<line x1="532.30" y1="352.48" x2="641.20" y2="352.48" stroke="#ebebeb" stroke-width="0.55"/>
<line x1="532.30" y1="360.58" x2="641.20" y2="360.58" stroke="#ebebeb" stroke-width="0.55"/>
<line x1="532.30" y1="368.68" x2="641.20" y2="368.68" stroke="#ebebeb" stroke-width="0.55"/>
<line x1="532.30" y1="376.77" x2="641.20" y2="376.77" stroke="#ebebeb" stroke-width="0.55"/>
<line x1="532.30" y1="384.87" x2="641.20" y2="384.87" stroke="#ebebeb" stroke-width="0.55"/>
<line x1="532.30" y1="392.96" x2="641.20" y2="392.96" stroke="#ebebeb" stroke-width="0.55"/>
<line x1="532.30" y1="401.06" x2="641.20" y2="401.06" stroke="#ebebeb" stroke-width="0.55"/>
<line x1="532.30" y1="409.16" x2="641.20" y2="409.16" stroke="#ebebeb" stroke-width="0.55"/>
<line x1="532.30" y1="417.25" x2="641.20" y2="417.25" stroke="#ebebeb" stroke-width="0.55"/>
<line x1="532.30" y1="425.35" x2="641.20" y2="425.35" stroke="#ebebeb" stroke-width="0.55"/>
<line x1="532.30" y1="433.44" x2="641.20" y2="433.44" stroke="#ebebeb" stroke-width="0.55"/>
<line x1="532.30" y1="441.54" x2="641.20" y2="441.54" stroke="#ebebeb" stroke-width="0.55"/>
<line x1="532.30" y1="449.64" x2="641.20" y2="449.64" stroke="#ebebeb" stroke-width="0.55"/>
<line x1="532.30" y1="457.73" x2="641.20" y2="457.73" stroke="#ebebeb" stroke-width="0.55"/>
<line x1="532.30" y1="465.83" x2="641.20" y2="465.83" stroke="#ebebeb" stroke-width="0.55"/>
<line x1="532.30" y1="473.92" x2="641.20" y2="473.92" stroke="#ebebeb" stroke-width="0.55"/>
<line x1="532.30" y1="482.02" x2="641.20" y2="482.02" stroke="#ebebeb" stroke-width="0.55"/>
<line x1="532.30" y1="490.12" x2="641.20" y2="490.12" stroke="#ebebeb" stroke-width="0.55"/>
<line x1="532.30" y1="498.21" x2="641.20" y2="498.21" stroke="#ebebeb" stroke-width="0.55"/>
<line x1="532.30" y1="506.31" x2="641.20" y2="506.31" stroke="#ebebeb" stroke-width="0.55"/>
<line x1="532.30" y1="514.40" x2="641.20" y2="514.40" stroke="#ebebeb" stroke-width="0.55"/>
<circle cx="587.30" cy="320.10" r="2.65" fill="#ff0000"/>
<text x="529.80" y="322.45" font-size="6.05" text-anchor="end" fill="#1a1a1a" class="s">Retrograde endocannabinoid signaling</text>
<line x1="530.50" y1="320.10" x2="532.30" y2="320.10" stroke="#333" stroke-width="0.5"/>
<circle cx="602.00" cy="328.20" r="2.15" fill="#ff0000"/>
<text x="529.80" y="330.55" font-size="6.05" text-anchor="end" fill="#1a1a1a" class="s">GABAergic synapse</text>
<line x1="530.50" y1="328.20" x2="532.30" y2="328.20" stroke="#333" stroke-width="0.5"/>
<circle cx="569.00" cy="336.29" r="3.20" fill="#ff0000"/>
<text x="529.80" y="338.64" font-size="6.05" text-anchor="end" fill="#1a1a1a" class="s">Neuroactive ligand-receptor interaction</text>
<line x1="530.50" y1="336.29" x2="532.30" y2="336.29" stroke="#333" stroke-width="0.5"/>
<circle cx="586.40" cy="344.39" r="2.40" fill="#ff0000"/>
<text x="529.80" y="346.74" font-size="6.05" text-anchor="end" fill="#1a1a1a" class="s">Dopaminergic synapse</text>
<line x1="530.50" y1="344.39" x2="532.30" y2="344.39" stroke="#333" stroke-width="0.5"/>
<circle cx="582.80" cy="352.48" r="2.45" fill="#ff0000"/>
<text x="529.80" y="354.83" font-size="6.05" text-anchor="end" fill="#1a1a1a" class="s">Glutamatergic synapse</text>
<line x1="530.50" y1="352.48" x2="532.30" y2="352.48" stroke="#333" stroke-width="0.5"/>
<circle cx="595.60" cy="360.58" r="2.25" fill="#ff0000"/>
<text x="529.80" y="362.93" font-size="6.05" text-anchor="end" fill="#1a1a1a" class="s">Synaptic vesicle cycle</text>
<line x1="530.50" y1="360.58" x2="532.30" y2="360.58" stroke="#333" stroke-width="0.5"/>
<circle cx="587.60" cy="368.68" r="2.25" fill="#ff0000"/>
<text x="529.80" y="371.03" font-size="6.05" text-anchor="end" fill="#1a1a1a" class="s">Morphine addiction</text>
<line x1="530.50" y1="368.68" x2="532.30" y2="368.68" stroke="#333" stroke-width="0.5"/>
<circle cx="616.50" cy="376.77" r="1.80" fill="#fd000d"/>
<text x="529.80" y="379.12" font-size="6.05" text-anchor="end" fill="#1a1a1a" class="s">Nicotine addiction</text>
<line x1="530.50" y1="376.77" x2="532.30" y2="376.77" stroke="#333" stroke-width="0.5"/>
<circle cx="570.40" cy="384.87" r="2.85" fill="#fd000d"/>
<text x="529.80" y="387.22" font-size="6.05" text-anchor="end" fill="#1a1a1a" class="s">cAMP signaling pathway</text>
<line x1="530.50" y1="384.87" x2="532.30" y2="384.87" stroke="#333" stroke-width="0.5"/>
<circle cx="586.40" cy="392.96" r="2.15" fill="#fc0012"/>
<text x="529.80" y="395.31" font-size="6.05" text-anchor="end" fill="#1a1a1a" class="s">Insulin secretion</text>
<line x1="530.50" y1="392.96" x2="532.30" y2="392.96" stroke="#333" stroke-width="0.5"/>
<circle cx="583.20" cy="401.06" r="2.15" fill="#fc0012"/>
<text x="529.80" y="403.41" font-size="6.05" text-anchor="end" fill="#1a1a1a" class="s">Circadian entrainment</text>
<line x1="530.50" y1="401.06" x2="532.30" y2="401.06" stroke="#333" stroke-width="0.5"/>
<circle cx="582.80" cy="409.16" r="2.05" fill="#fc0016"/>
<text x="529.80" y="411.51" font-size="6.05" text-anchor="end" fill="#1a1a1a" class="s">ErbB signaling pathway</text>
<line x1="530.50" y1="409.16" x2="532.30" y2="409.16" stroke="#333" stroke-width="0.5"/>
<circle cx="571.30" cy="417.25" r="2.35" fill="#fb001a"/>
<text x="529.80" y="419.60" font-size="6.05" text-anchor="end" fill="#1a1a1a" class="s">Adrenergic signaling in cardiomyocytes</text>
<line x1="530.50" y1="417.25" x2="532.30" y2="417.25" stroke="#333" stroke-width="0.5"/>
<circle cx="564.00" cy="425.35" r="2.35" fill="#fb001a"/>
<text x="529.80" y="427.70" font-size="6.05" text-anchor="end" fill="#1a1a1a" class="s">Axon guidance</text>
<line x1="530.50" y1="425.35" x2="532.30" y2="425.35" stroke="#333" stroke-width="0.5"/>
<circle cx="577.50" cy="433.44" r="1.55" fill="#f6002a"/>
<text x="529.80" y="435.79" font-size="6.05" text-anchor="end" fill="#1a1a1a" class="s">Endocrine and other factor-regulated calcium reabsorption</text>
<line x1="530.50" y1="433.44" x2="532.30" y2="433.44" stroke="#333" stroke-width="0.5"/>
<circle cx="556.20" cy="441.54" r="2.70" fill="#f30035"/>
<text x="529.80" y="443.89" font-size="6.05" text-anchor="end" fill="#1a1a1a" class="s">Alzheimer disease</text>
<line x1="530.50" y1="441.54" x2="532.30" y2="441.54" stroke="#333" stroke-width="0.5"/>
<circle cx="566.70" cy="449.64" r="2.05" fill="#ed0044"/>
<text x="529.80" y="451.99" font-size="6.05" text-anchor="end" fill="#1a1a1a" class="s">Serotonergic synapse</text>
<line x1="530.50" y1="449.64" x2="532.30" y2="449.64" stroke="#333" stroke-width="0.5"/>
<circle cx="567.80" cy="457.73" r="2.00" fill="#ed0044"/>
<text x="529.80" y="460.08" font-size="6.05" text-anchor="end" fill="#1a1a1a" class="s">Cholinergic synapse</text>
<line x1="530.50" y1="457.73" x2="532.30" y2="457.73" stroke="#333" stroke-width="0.5"/>
<circle cx="566.00" cy="465.83" r="2.10" fill="#ed0044"/>
<text x="529.80" y="468.18" font-size="6.05" text-anchor="end" fill="#1a1a1a" class="s">Relaxin signaling pathway</text>
<line x1="530.50" y1="465.83" x2="532.30" y2="465.83" stroke="#333" stroke-width="0.5"/>
<circle cx="571.40" cy="473.92" r="1.70" fill="#dd0066"/>
<text x="529.80" y="476.27" font-size="6.05" text-anchor="end" fill="#1a1a1a" class="s">Taste transduction</text>
<line x1="530.50" y1="473.92" x2="532.30" y2="473.92" stroke="#333" stroke-width="0.5"/>
<circle cx="571.40" cy="482.02" r="1.70" fill="#a600b7"/>
<text x="529.80" y="484.37" font-size="6.05" text-anchor="end" fill="#1a1a1a" class="s">GnRH secretion</text>
<line x1="530.50" y1="482.02" x2="532.30" y2="482.02" stroke="#333" stroke-width="0.5"/>
<circle cx="570.50" cy="490.12" r="1.70" fill="#a200bb"/>
<text x="529.80" y="492.47" font-size="6.05" text-anchor="end" fill="#1a1a1a" class="s">Renin secretion</text>
<line x1="530.50" y1="490.12" x2="532.30" y2="490.12" stroke="#333" stroke-width="0.5"/>
<circle cx="566.00" cy="498.21" r="2.05" fill="#9800c5"/>
<text x="529.80" y="500.56" font-size="6.05" text-anchor="end" fill="#1a1a1a" class="s">Choline metabolism in cancer</text>
<line x1="530.50" y1="498.21" x2="532.30" y2="498.21" stroke="#333" stroke-width="0.5"/>
<circle cx="573.70" cy="506.31" r="0.95" fill="#2f00fa"/>
<text x="529.80" y="508.66" font-size="6.05" text-anchor="end" fill="#1a1a1a" class="s">Long-term depression</text>
<line x1="530.50" y1="506.31" x2="532.30" y2="506.31" stroke="#333" stroke-width="0.5"/>
<circle cx="567.00" cy="514.40" r="1.60" fill="#0000ff"/>
<text x="529.80" y="516.75" font-size="6.05" text-anchor="end" fill="#1a1a1a" class="s">Gap junction</text>
<line x1="530.50" y1="514.40" x2="532.30" y2="514.40" stroke="#333" stroke-width="0.5"/>
<rect x="532.30" y="315.40" width="108.90" height="203.60" fill="none" stroke="#4a4a4a" stroke-width="1.0"/>
<line x1="566.60" y1="519.00" x2="566.60" y2="520.80" stroke="#333" stroke-width="0.5"/>
<text x="566.60" y="525.80" font-size="6.1" text-anchor="middle" fill="#333333" class="s">0.1</text>
<line x1="605.30" y1="519.00" x2="605.30" y2="520.80" stroke="#333" stroke-width="0.5"/>
<text x="605.30" y="525.80" font-size="6.1" text-anchor="middle" fill="#333333" class="s">0.2</text>
<text x="586.50" y="532.40" font-size="6.85" text-anchor="middle" font-weight="bold" fill="#000">RichFactor</text>
<text transform="translate(371.40,417.10) rotate(-90)" font-size="7.0" font-weight="bold" text-anchor="middle" fill="#000">Pathway</text>
<text x="310.20" y="377.40" font-size="4.6" text-anchor="start" fill="#222222" class="t">GeneNumber</text>
<circle cx="313.90" cy="383.80" r="1.80" fill="#000"/>
<text x="319.80" y="385.60" font-size="5.0" text-anchor="start" fill="#222222" class="t">25</text>
<circle cx="313.90" cy="390.90" r="2.40" fill="#000"/>
<text x="319.80" y="392.70" font-size="5.0" text-anchor="start" fill="#222222" class="t">50</text>
<circle cx="313.90" cy="398.00" r="2.70" fill="#000"/>
<text x="319.80" y="399.80" font-size="5.0" text-anchor="start" fill="#222222" class="t">75</text>
<circle cx="313.90" cy="405.10" r="2.85" fill="#000"/>
<text x="319.80" y="406.90" font-size="5.0" text-anchor="start" fill="#222222" class="t">100</text>
<defs><linearGradient id="g534" x1="0" y1="1" x2="0" y2="0">
<stop offset="0.00" stop-color="#ff0000"/>
<stop offset="0.10" stop-color="#f6002a"/>
<stop offset="0.20" stop-color="#ed0044"/>
<stop offset="0.30" stop-color="#e3005b"/>
<stop offset="0.40" stop-color="#d70072"/>
<stop offset="0.50" stop-color="#ca0088"/>
<stop offset="0.60" stop-color="#ba009f"/>
<stop offset="0.70" stop-color="#a600b7"/>
<stop offset="0.80" stop-color="#8d00ce"/>
<stop offset="0.90" stop-color="#6800e7"/>
<stop offset="1.00" stop-color="#0000ff"/>
</linearGradient></defs>
<rect x="310.20" y="424.40" width="7.50" height="36.30" fill="url(#g534)"/>
<text x="310.20" y="421.40" font-size="4.7" text-anchor="start" fill="#222222" class="t">qvalue</text>
<line x1="310.20" y1="430.40" x2="311.70" y2="430.40" stroke="#fff" stroke-width="0.4" stroke-opacity="0.6"/>
<line x1="316.20" y1="430.40" x2="317.70" y2="430.40" stroke="#fff" stroke-width="0.4" stroke-opacity="0.6"/>
<text x="319.90" y="432.20" font-size="5.0" text-anchor="start" fill="#222222" class="t">0.015</text>
<line x1="310.20" y1="440.50" x2="311.70" y2="440.50" stroke="#fff" stroke-width="0.4" stroke-opacity="0.6"/>
<line x1="316.20" y1="440.50" x2="317.70" y2="440.50" stroke="#fff" stroke-width="0.4" stroke-opacity="0.6"/>
<text x="319.90" y="442.30" font-size="5.0" text-anchor="start" fill="#222222" class="t">0.010</text>
<line x1="310.20" y1="450.60" x2="311.70" y2="450.60" stroke="#fff" stroke-width="0.4" stroke-opacity="0.6"/>
<line x1="316.20" y1="450.60" x2="317.70" y2="450.60" stroke="#fff" stroke-width="0.4" stroke-opacity="0.6"/>
<text x="319.90" y="452.40" font-size="5.0" text-anchor="start" fill="#222222" class="t">0.005</text>
<text x="648.10" y="377.50" font-size="4.6" text-anchor="start" fill="#222222" class="t">GeneNumber</text>
<circle cx="651.60" cy="383.70" r="1.80" fill="#000"/>
<text x="657.80" y="385.50" font-size="5.0" text-anchor="start" fill="#222222" class="t">20</text>
<circle cx="651.60" cy="391.00" r="2.20" fill="#000"/>
<text x="657.80" y="392.80" font-size="5.0" text-anchor="start" fill="#222222" class="t">30</text>
<circle cx="651.60" cy="398.00" r="2.50" fill="#000"/>
<text x="657.80" y="399.80" font-size="5.0" text-anchor="start" fill="#222222" class="t">40</text>
<circle cx="651.60" cy="404.90" r="2.75" fill="#000"/>
<text x="657.80" y="406.70" font-size="5.0" text-anchor="start" fill="#222222" class="t">50</text>
<defs><linearGradient id="g567" x1="0" y1="1" x2="0" y2="0">
<stop offset="0.00" stop-color="#ff0000"/>
<stop offset="0.10" stop-color="#f6002a"/>
<stop offset="0.20" stop-color="#ed0044"/>
<stop offset="0.30" stop-color="#e3005b"/>
<stop offset="0.40" stop-color="#d70072"/>
<stop offset="0.50" stop-color="#ca0088"/>
<stop offset="0.60" stop-color="#ba009f"/>
<stop offset="0.70" stop-color="#a600b7"/>
<stop offset="0.80" stop-color="#8d00ce"/>
<stop offset="0.90" stop-color="#6800e7"/>
<stop offset="1.00" stop-color="#0000ff"/>
</linearGradient></defs>
<rect x="648.00" y="424.10" width="7.10" height="36.60" fill="url(#g567)"/>
<text x="648.00" y="421.90" font-size="4.7" text-anchor="start" fill="#222222" class="t">qvalue</text>
<line x1="648.00" y1="425.10" x2="649.50" y2="425.10" stroke="#fff" stroke-width="0.4" stroke-opacity="0.6"/>
<line x1="653.60" y1="425.10" x2="655.10" y2="425.10" stroke="#fff" stroke-width="0.4" stroke-opacity="0.6"/>
<text x="657.70" y="426.90" font-size="4.9" text-anchor="start" fill="#222222" class="t">0.0125</text>
<line x1="648.00" y1="432.20" x2="649.50" y2="432.20" stroke="#fff" stroke-width="0.4" stroke-opacity="0.6"/>
<line x1="653.60" y1="432.20" x2="655.10" y2="432.20" stroke="#fff" stroke-width="0.4" stroke-opacity="0.6"/>
<text x="657.70" y="434.00" font-size="4.9" text-anchor="start" fill="#222222" class="t">0.0100</text>
<line x1="648.00" y1="439.10" x2="649.50" y2="439.10" stroke="#fff" stroke-width="0.4" stroke-opacity="0.6"/>
<line x1="653.60" y1="439.10" x2="655.10" y2="439.10" stroke="#fff" stroke-width="0.4" stroke-opacity="0.6"/>
<text x="657.70" y="440.90" font-size="4.9" text-anchor="start" fill="#222222" class="t">0.0075</text>
<line x1="648.00" y1="446.30" x2="649.50" y2="446.30" stroke="#fff" stroke-width="0.4" stroke-opacity="0.6"/>
<line x1="653.60" y1="446.30" x2="655.10" y2="446.30" stroke="#fff" stroke-width="0.4" stroke-opacity="0.6"/>
<text x="657.70" y="448.10" font-size="4.9" text-anchor="start" fill="#222222" class="t">0.0050</text>
<line x1="648.00" y1="453.30" x2="649.50" y2="453.30" stroke="#fff" stroke-width="0.4" stroke-opacity="0.6"/>
<line x1="653.60" y1="453.30" x2="655.10" y2="453.30" stroke="#fff" stroke-width="0.4" stroke-opacity="0.6"/>
<text x="657.70" y="455.10" font-size="4.9" text-anchor="start" fill="#222222" class="t">0.0025</text>
</svg></div></body></html>
